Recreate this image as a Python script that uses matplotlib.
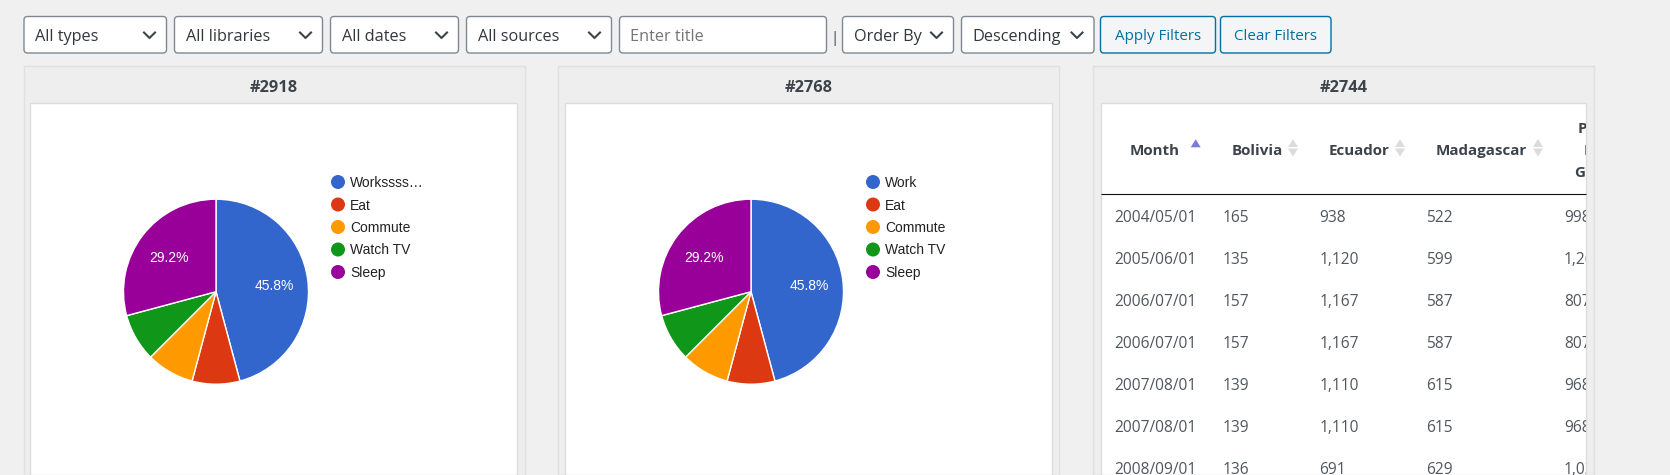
#!/usr/bin/env python3
"""Chart library admin page: filter bar, two pie chart cards and a table card"""

import matplotlib
matplotlib.use('Agg')
import matplotlib.pyplot as plt
from matplotlib.patches import FancyBboxPatch, Rectangle, Circle, Polygon

W, H = 1670, 475
UI_FONT = 'Open Sans'
CHART_FONT = 'Liberation Sans'

# pie data
tasks_a = ['Workssss\u2026', 'Eat', 'Commute', 'Watch TV', 'Sleep']
tasks_b = ['Work', 'Eat', 'Commute', 'Watch TV', 'Sleep']
hours = [11, 2, 2, 2, 7]
pie_colors = ['#3366cc', '#dc3912', '#ff9900', '#109618', '#990099']

# table data
table_cols = ['Month', 'Bolivia', 'Ecuador', 'Madagascar']
months = ['2004/05/01', '2005/06/01', '2006/07/01', '2006/07/01',
          '2007/08/01', '2007/08/01', '2008/09/01']
bolivia = ['165', '135', '157', '157', '139', '139', '136']
ecuador = ['938', '1,120', '1,167', '1,167', '1,110', '1,110', '691']
madagascar = ['522', '599', '587', '587', '615', '615', '629']
papua = ['998', '1,268', '807', '807', '968', '968', '1,026']

# filter bar
dropdowns = [('All types', 24, 166.5), ('All libraries', 174.5, 322.5),
             ('All dates', 330.5, 458.5), ('All sources', 466.5, 611.5),
             ('Order By', 842.5, 953.5), ('Descending', 961.5, 1094)]
buttons = [('Apply Filters', 1100.5, 1215.5), ('Clear Filters', 1220.5, 1331)]


def box(ax, x0, x1, y0, y1, fc, ec, lw=1.0, rad=3.5):
    ax.add_patch(FancyBboxPatch((x0, y0), x1 - x0, y1 - y0,
                                boxstyle=f'round,pad=0,rounding_size={rad}',
                                fc=fc, ec=ec, lw=lw))


def draw_filter_bar(ax):
    for label, x0, x1 in dropdowns:
        box(ax, x0, x1, 16.5, 53, 'white', '#7e8993')
        ax.text(x0 + 11, 37, label, family=UI_FONT, fontsize=11.7,
                color='#32373c', va='center')
        cx = x1 - 17
        ax.plot([cx - 5.5, cx, cx + 5.5], [32.5, 38, 32.5], color='#3c434a', lw=1.5)

    box(ax, 619.5, 826.5, 16.5, 53, 'white', '#7e8993')
    ax.text(630.5, 37, 'Enter title', family=UI_FONT, fontsize=11.7,
            color='#757575', va='center')
    ax.text(834.5, 38, '|', family=UI_FONT, fontsize=10.9, color='#3c434a',
            ha='center', va='center')

    for label, x0, x1 in buttons:
        box(ax, x0, x1, 16.5, 53, '#f3f5f6', '#0071a1')
        ax.text((x0 + x1) / 2, 37, label, family=UI_FONT, fontsize=10.9,
                color='#0071a1', ha='center', va='center')


def draw_card(ax, x0, x1, inner_x0, inner_x1, title):
    ax.add_patch(Rectangle((x0, 66), x1 - x0, H - 66, fc='#eeeeee', ec='#e0e0e0', lw=1.0))
    ax.add_patch(Rectangle((inner_x0, 102.5), inner_x1 - inner_x0, H - 102.5,
                           fc='white', ec='#dddddd', lw=1.0))
    ax.text((x0 + x1) / 2, 88, title, family=UI_FONT, fontsize=11.8,
            fontweight='bold', color='#3c434a', ha='center', va='center')


def draw_pie(fig, ax, cx, cy, labels):
    r = 92.5
    pie_ax = fig.add_axes([(cx - r) / W, 1 - (cy + r) / H, 2 * r / W, 2 * r / H])
    _, _, pct_texts = pie_ax.pie(
        hours, colors=pie_colors, startangle=90, counterclock=False,
        radius=1, wedgeprops={'edgecolor': 'white', 'linewidth': 1.0},
        autopct=lambda p: f'{p:.1f}%' if p > 10 else '', pctdistance=0.636,
        textprops={'family': CHART_FONT, 'fontsize': 10, 'color': 'white'})
    pie_ax.set_xlim(-1, 1)
    pie_ax.set_ylim(-1, 1)
    for t in pct_texts:
        px, py = t.get_position()
        t.set_position((px, py - 0.02))

    # legend
    for i, (label, color) in enumerate(zip(labels, pie_colors)):
        y = cy - 109.7 + i * 22.5
        ax.add_patch(Circle((cx + 122, y), 7, fc=color, ec='none'))
        ax.text(cx + 134, y + 1, label, family=CHART_FONT, fontsize=10,
                color='#222222', va='center')


def draw_table(fig, ax):
    left, right = 1101, 1586
    clip = Rectangle((left, 102.5), right - left, H - 102.5, transform=ax.transData)

    header_x = [1130, 1231.7, 1328.7, 1436]
    for name, x in zip(table_cols, header_x):
        ax.text(x, 151, name, family=UI_FONT, fontsize=10.9, fontweight='bold',
                color='#3c434a', va='center')
    for word, y in zip(['Papua', 'New', 'Guinea'], [129, 151, 173]):
        t = ax.text(1601, y, word, family=UI_FONT, fontsize=10.9, fontweight='bold',
                    color='#3c434a', ha='center', va='center', clip_on=True)
        t.set_clip_path(clip)
    ax.plot([left, right], [193.5, 193.5], color='#111111', lw=0.8, solid_capstyle='butt')

    # sort arrows
    ax.add_patch(Polygon([(1190.7, 147.3), (1200.7, 147.3), (1195.7, 139.3)], fc='#7b7bdc', ec='none'))
    for x in [1293, 1400, 1538]:
        ax.add_patch(Polygon([(x - 5, 147), (x + 5, 147), (x, 139)], fc='#dcdcdc', ec='none'))
        ax.add_patch(Polygon([(x - 5, 148.5), (x + 5, 148.5), (x, 156.5)], fc='#dcdcdc', ec='none'))

    col_x = [1114.3, 1222.3, 1319.3, 1426.3, 1564]
    cols = [months, bolivia, ecuador, madagascar, papua]
    row_y = [218.2, 260, 302, 344, 386, 428, 469.8]
    for values, x in zip(cols, col_x):
        for value, y in zip(values, row_y):
            t = ax.text(x, y, value, family=UI_FONT, fontsize=11.2, color='#50575e',
                        va='center', clip_on=True)
            t.set_clip_path(clip)


def main():
    fig = plt.figure(figsize=(W / 100, H / 100), dpi=100, facecolor='#f0f0f1')
    ax = fig.add_axes([0, 0, 1, 1])
    ax.set_xlim(0, W)
    ax.set_ylim(H, 0)
    ax.axis('off')

    draw_filter_bar(ax)
    draw_card(ax, 23.5, 524.7, 30.4, 516.8, '#2918')
    draw_card(ax, 558.3, 1059.3, 565.4, 1051.5, '#2768')
    draw_card(ax, 1093.3, 1594, 1100.7, 1586, '#2744')

    draw_pie(fig, ax, 216, 291.7, tasks_a)
    draw_pie(fig, ax, 751, 291.7, tasks_b)
    draw_table(fig, ax)

    fig.savefig('out.png', dpi=100, facecolor=fig.get_facecolor())


if __name__ == '__main__':
    main()
